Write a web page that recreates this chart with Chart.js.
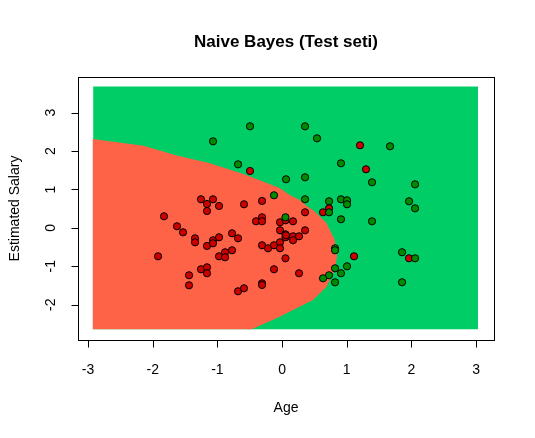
<!DOCTYPE html>
<html><head><meta charset="utf-8">
<script src="https://cdn.jsdelivr.net/npm/chart.js@4"></script>
<style>html,body{margin:0;padding:0;background:#fff}#w{width:535px;height:438px}</style>
</head><body><div id="w"><canvas id="c"></canvas></div>
<script>
const xTicks=[-3,-2,-1,0,1,2,3];
const yTicks=[-2,-1,0,1,2,3];
const gridX=[-2.92,3.03,3.03,-2.92];
const gridY=[-2.64,-2.64,3.68,3.68];
const redRegionX=[-2.927,-2.143,-1.628,-1.113,-0.597,-0.036,0.119,0.274,0.428,0.479,0.687,0.815,0.850,0.815,0.687,0.479,0.170,-0.036,-0.47,-2.927];
const redRegionY=[2.315,2.141,1.888,1.682,1.404,1.039,0.857,0.727,0.510,0.466,0.128,-0.315,-0.750,-1.096,-1.531,-1.878,-2.138,-2.313,-2.64,-2.64];
const redAge=[-0.495,-1.253,-1.160,-1.067,-0.974,-0.588,-0.309,-1.160,-1.825,-1.624,-1.531,-1.345,-1.345,-1.160,-1.067,-1.067,-0.974,-0.773,-0.680,-1.917,-0.974,-0.881,-0.881,-0.773,-1.253,-1.160,-1.160,-1.438,-1.438,-0.680,-0.588,-0.309,-0.309,-0.402,-0.309,-0.309,-0.031,-0.031,0.053,0.053,0.053,-0.309,-0.216,-0.124,-0.031,-0.031,0.053,-0.124,1.206,1.299,0.727,0.170,0.356,0.634,0.356,0.062,0.170,0.170,0.263,1.113,1.964,0.263];
const redSal=[1.482,0.745,0.622,0.745,0.570,0.615,0.701,0.440,0.302,0.042,-0.115,-0.271,-0.375,-0.471,-0.323,-0.401,-0.245,-0.141,-0.271,-0.740,-0.740,-0.635,-0.766,-0.583,-1.078,-1.026,-1.182,-1.234,-1.495,-1.651,-1.573,-1.443,-1.487,0.172,0.276,0.172,0.146,-0.063,0.198,-0.167,-0.245,-0.453,-0.531,-0.453,-0.375,-0.531,-0.792,-1.078,2.151,1.526,0.510,0.172,0.406,0.406,-0.063,-0.193,-0.219,-0.323,-0.219,-0.740,-0.792,-1.182];
const greenAge=[-0.495,-1.067,-0.680,0.062,-0.124,0.356,0.541,1.670,0.912,0.356,1.392,2.057,0.356,0.727,0.912,1.005,1.005,1.964,2.057,0.053,0.727,0.912,1.392,0.820,0.820,1.856,2.057,1.005,0.820,0.912,0.727,0.634,0.820,1.856];
const greenSal=[2.646,2.255,1.656,1.266,0.849,2.646,2.333,2.125,1.682,1.318,1.188,1.135,0.745,0.693,0.745,0.719,0.615,0.693,0.510,0.276,0.406,0.224,0.172,-0.531,-0.583,-0.635,-0.792,-1.000,-1.052,-1.182,-1.234,-1.313,-1.417,-1.417];
const zip=(a,b)=>a.map((v,i)=>({x:v,y:b[i]}));
const F='"Liberation Sans", Arial, sans-serif';
const deco={id:'deco',afterDraw(ch){
  const c=ch.ctx,a=ch.chartArea,sx=ch.scales.x,sy=ch.scales.y;
  c.save();c.strokeStyle='#000';c.lineWidth=1;
  c.strokeRect(Math.round(a.left)+0.5,Math.round(a.top)+0.5,Math.round(a.right-a.left),Math.round(a.bottom-a.top));
  c.fillStyle='#000';c.font='14px '+F;c.textAlign='center';c.textBaseline='middle';
  c.beginPath();
  const x0=Math.round(sx.getPixelForValue(xTicks[0]))+0.5,x1=Math.round(sx.getPixelForValue(xTicks[xTicks.length-1]))+0.5,by=Math.round(a.bottom)+0.5;
  c.moveTo(x0,by);c.lineTo(x1,by);
  xTicks.forEach(v=>{const p=Math.round(sx.getPixelForValue(v))+0.5;c.moveTo(p,by);c.lineTo(p,by+7);});
  const lx=Math.round(a.left)+0.5;
  yTicks.forEach(v=>{const p=Math.round(sy.getPixelForValue(v))+0.5;c.moveTo(lx,p);c.lineTo(lx-7,p);});
  c.stroke();
  xTicks.forEach(v=>c.fillText(String(v),sx.getPixelForValue(v),370));
  yTicks.forEach(v=>{c.save();c.translate(51,sy.getPixelForValue(v));c.rotate(-Math.PI/2);c.fillText(String(v),0,0);c.restore();});
  c.fillText('Age',(a.left+a.right)/2,408);
  c.save();c.translate(15,(a.top+a.bottom)/2);c.rotate(-Math.PI/2);c.fillText('Estimated Salary',0,0);c.restore();
  c.font='bold 17px '+F;c.fillText('Naive Bayes (Test seti)',(a.left+a.right)/2,42);
  c.restore();
}};
new Chart(document.getElementById('c'),{
  type:'scatter',
  data:{datasets:[
    {data:zip(redAge,redSal),backgroundColor:'#CD0000',borderColor:'#000',borderWidth:1,pointRadius:3.6,order:1},
    {data:zip(greenAge,greenSal),backgroundColor:'#008B00',borderColor:'#000',borderWidth:1,pointRadius:3.6,order:0},
    {type:'line',data:zip(redRegionX,redRegionY),fill:'shape',backgroundColor:'#FF6347',borderWidth:0,pointRadius:0,tension:0,order:2},
    {type:'line',data:zip(gridX,gridY),fill:'shape',backgroundColor:'#00CD66',borderWidth:0,pointRadius:0,tension:0,order:3}
  ]},
  options:{responsive:true,maintainAspectRatio:false,animation:false,devicePixelRatio:1,
    layout:{padding:{left:78,right:41,top:77,bottom:98}},
    plugins:{legend:{display:false},tooltip:{enabled:false}},
    scales:{x:{type:'linear',min:-3.155,max:3.278,display:false},y:{type:'linear',min:-2.92,max:3.93,display:false}}
  },
  plugins:[deco]
});
</script></body></html>
